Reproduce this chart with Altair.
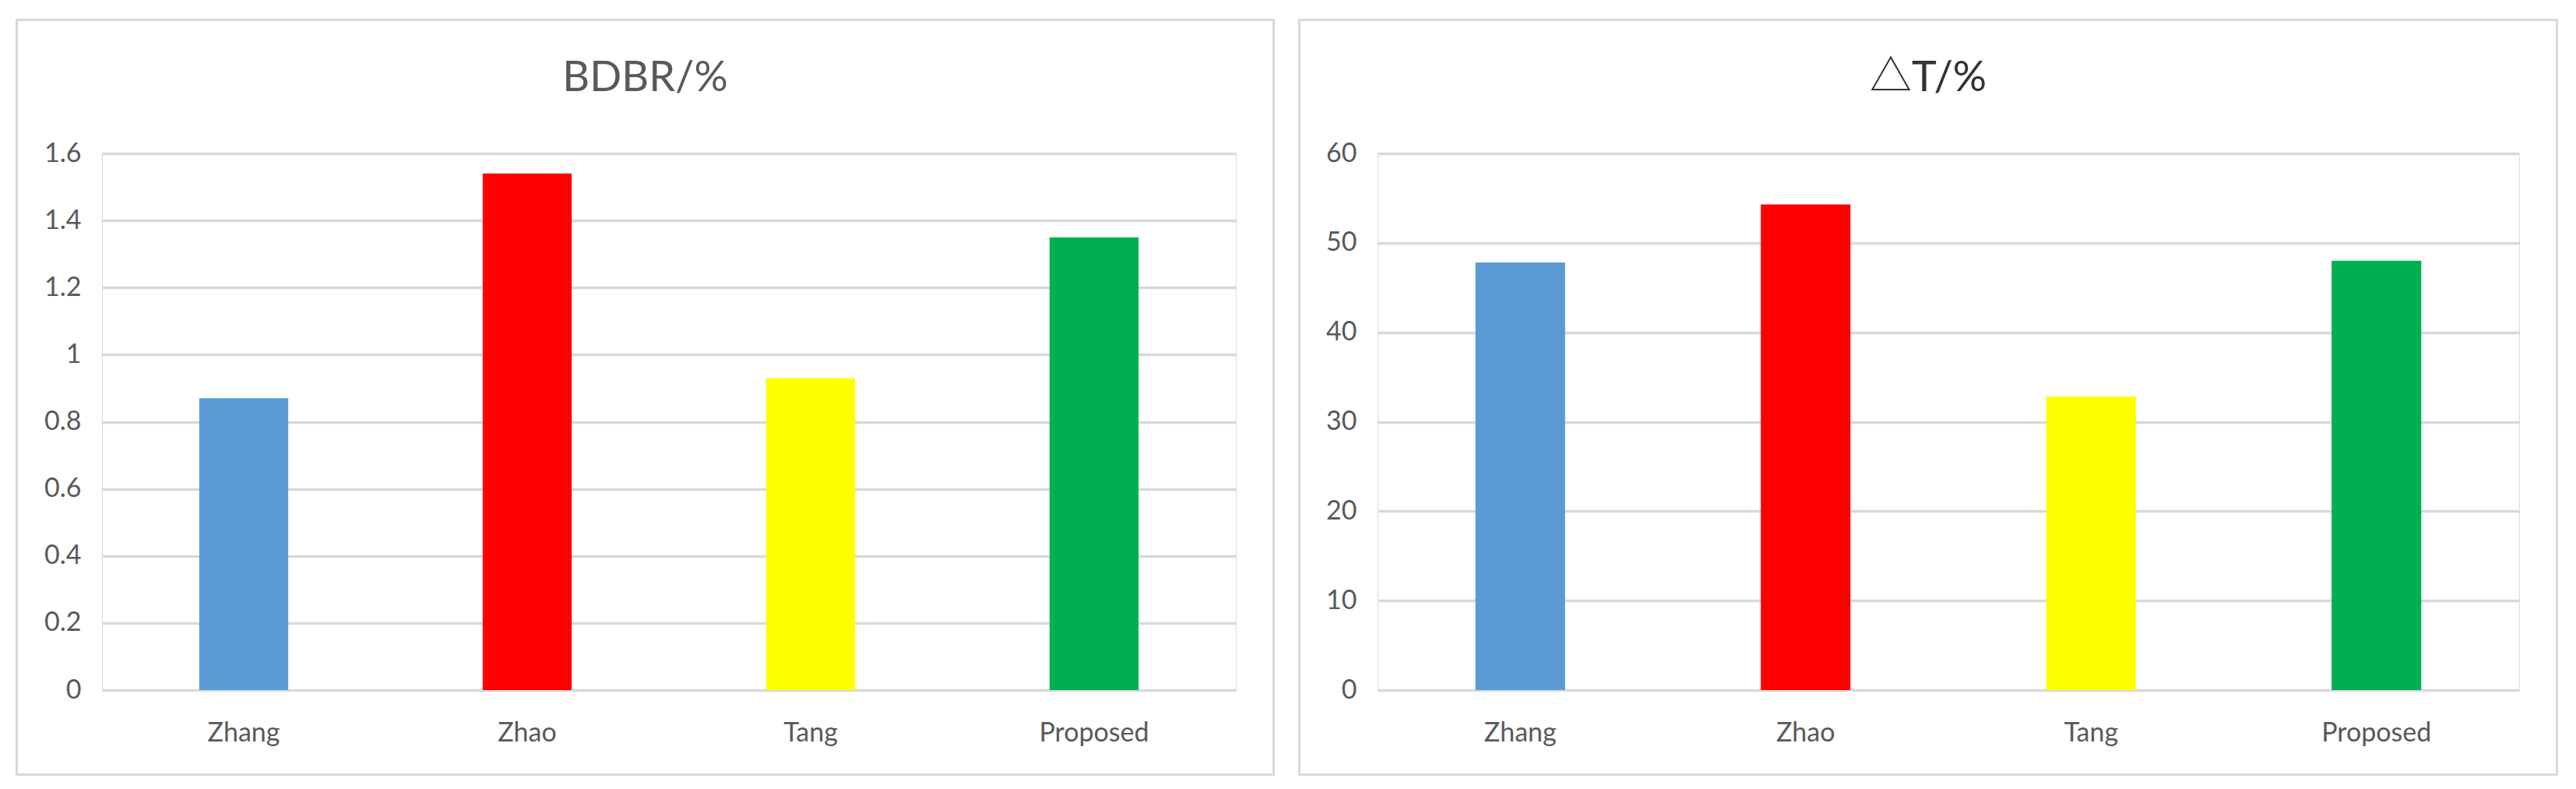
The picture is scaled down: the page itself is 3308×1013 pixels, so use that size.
import altair as alt
import pandas as pd

methods = ["Zhang", "Zhao", "Tang", "Proposed"]
bdbr = [0.87, 1.54, 0.93, 1.35]
delta_t = [47.8, 54.3, 32.8, 48.0]
colors = ["#5B9BD5", "#FF0000", "#FFFF00", "#00B050"]
bdbr_ticks = [0, 0.2, 0.4, 0.6, 0.8, 1.0, 1.2, 1.4, 1.6]
dt_ticks = [0, 10, 20, 30, 40, 50, 60]

H = 689
FONT = "Lato"
GRID = "#D9D9D9"
TXT = "#595959"


def panel(values, ticks, title, title_color, width, frame_left, title_x):
    df = pd.DataFrame({"method": methods, "value": values, "color": colors})
    base = alt.Chart(df)
    bars = base.mark_bar().encode(
        x=alt.X(
            "method:N",
            sort=methods,
            scale=alt.Scale(paddingInner=0.686, paddingOuter=0.343),
            axis=alt.Axis(
                title=None, labelAngle=0, domain=False, ticks=False,
                labelFont=FONT, labelFontSize=34, labelColor=TXT,
                labelBaseline="alphabetic", labelPadding=65, grid=False,
            ),
        ),
        y=alt.Y(
            "value:Q",
            scale=alt.Scale(domain=[ticks[0], ticks[-1]], nice=False, zero=True),
            axis=alt.Axis(
                title=None, values=ticks, format="~f", domain=False, ticks=False,
                labelFont=FONT, labelFontSize=34, labelColor=TXT, labelPadding=27,
                grid=True, gridColor=GRID, gridWidth=3.5,
            ),
        ),
        color=alt.Color("color:N", scale=None),
    )
    one = alt.Chart(pd.DataFrame({"k": [0]}))
    frame = one.mark_rect(filled=False, stroke=GRID, strokeWidth=3).encode(
        x=alt.value(frame_left), x2=alt.value(width + 48.5),
        y=alt.value(-171.5), y2=alt.value(H + 108.5),
    )
    ttl = one.mark_text(
        text=title, font=f"{FONT}, Noto Sans CJK SC", fontSize=54,
        color=title_color, align="center", baseline="alphabetic",
    ).encode(x=alt.value(title_x), y=alt.value(-80))
    return alt.layer(frame, bars, ttl).properties(width=width, height=H)


left = panel(bdbr, bdbr_ticks, "BDBR/%", "#595959", 1456, -109.5, 697.5)
right = panel(delta_t, dt_ticks, "△T/%", "#333333", 1466, -100.5, 707)

chart = (
    alt.hconcat(left, right, spacing=28)
    .properties(padding={"left": 11, "top": 15, "right": 0, "bottom": 0})
    .configure_view(strokeWidth=0)
    .configure(background="white")
)

chart.save("out.html", embed_options={"renderer": "svg", "actions": False})
